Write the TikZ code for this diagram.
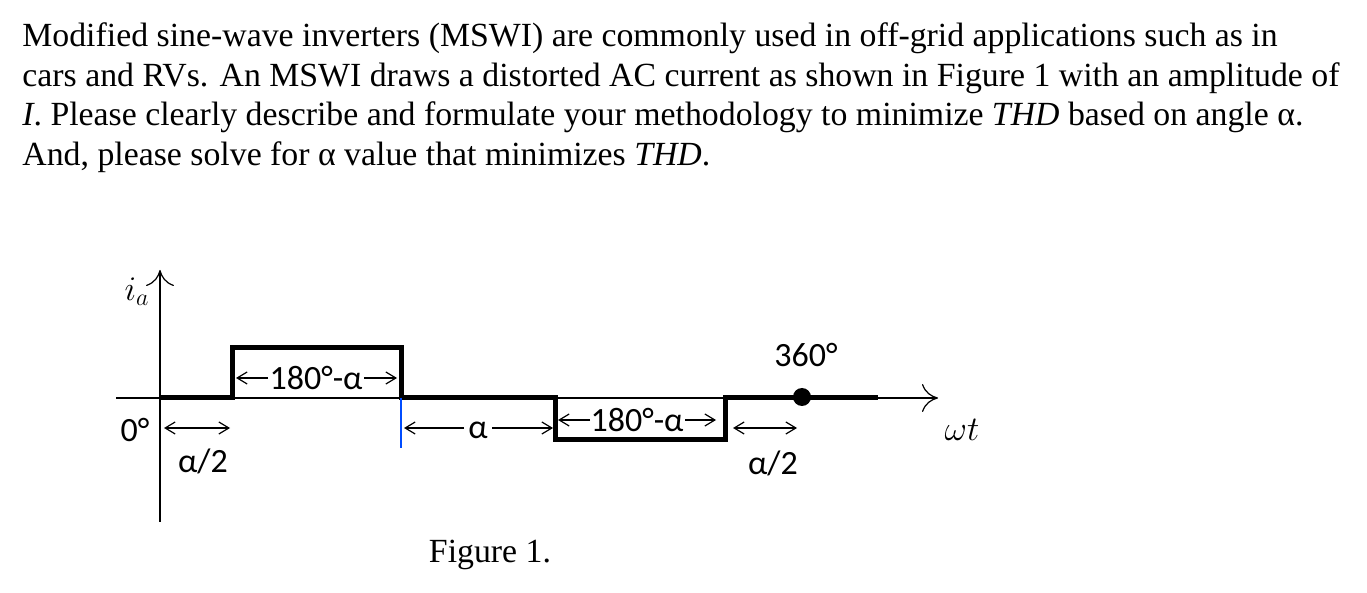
\documentclass[tikz,border=0pt]{standalone}
\usepackage{fontspec}
\usetikzlibrary{arrows.meta}
\setmainfont{Liberation Serif}
\newfontfamily\lab{Carlito}
\begin{document}
\begin{tikzpicture}[x=0.5pt,y=-0.5pt,
  txt/.style={anchor=base west,inner sep=0,font=\fontsize{16.9}{20}\selectfont},
  lbl/.style={inner sep=0,font=\lab\fontsize{17}{20}\selectfont},
  wave/.style={line width=2.5pt},
  tip/.style={-{Straight Barb[length=5pt,width=6pt]},line width=0.6pt},
  dim/.style={{Straight Barb[length=5pt,width=6pt]}-{Straight Barb[length=5pt,width=6pt]},line width=0.6pt}]
\useasboundingbox (0,0) rectangle (1367,593);
\node[txt] (l1) at (22,47) {Modified sine-wave inverters (MSWI) are commonly used in off-grid applications such as in};
\node[txt] (l2) at (22,87) {cars and RVs. An MSWI draws a distorted AC current as shown in Figure 1 with an amplitude of};
\node[txt] (l3) at (22,126) {\textit{I}. Please clearly describe and formulate your methodology to minimize \textit{THD} based on angle α.};
\node[txt] (l4) at (22,166) {And, please solve for α value that minimizes \textit{THD}.};
% axes
\coordinate (yb) at (160,522); \coordinate (yt) at (160,270);
\coordinate (xl) at (116,398); \coordinate (xr) at (938,398);
\draw[-{To[length=8pt,width=14pt]},line width=0.6pt] (yb) -- (yt);
\draw[-{To[length=8pt,width=14pt]},line width=0.6pt] (xl) -- (xr);
% waveform
\draw[wave] (160,398) -- (232,398) -- (232,348) -- (401,348) -- (401,398) -- (555,398) -- (555,440) -- (725,440) -- (725,398) -- (878,398);
\fill (802,397) circle (9);
\draw[blue!70!cyan,line width=0.8pt] (401,398) -- (401,448);
% dimensions
\draw[dim] (164,428) -- (230,428);
\node[lbl] (a1) at (203,461) {α/2};
\draw[tip] (268,378) -- (236,378); \draw[tip] (364,378) -- (397,378);
\node[lbl] (b1) at (316,378) {180°-α};
\draw[tip] (464,428) -- (404,428);
\draw[tip] (492,428) -- (553,428);
\node[lbl] (c1) at (478,430) {α};
\draw[tip] (590,420) -- (558,420);
\draw[tip] (685,420) -- (716,420);
\node[lbl] (b2) at (637,420) {180°-α};
\draw[dim] (733,428) -- (797,428);
\node[lbl] (a2) at (773,463) {α/2};
\node[lbl] (d) at (806,355) {360°};
\node[lbl] (z) at (135,430) {0°};
\node[inner sep=0,font=\fontsize{17}{20}\selectfont] (w) at (962,430) {$\omega t$};
\node[inner sep=0,font=\fontsize{17}{20}\selectfont] (ia) at (137,292) {$i_a$};
\node[txt,anchor=base] (f) at (490,562) {Figure 1.};
\end{tikzpicture}
\end{document}
